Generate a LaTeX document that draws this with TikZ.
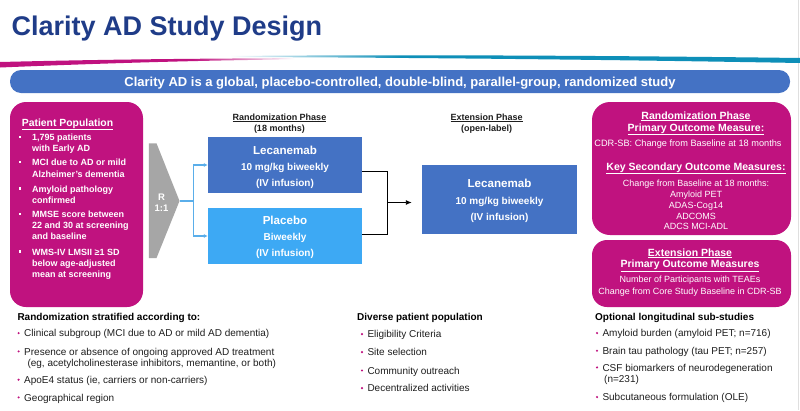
\documentclass[tikz,border=0pt]{standalone}
\usepackage{fontspec}
\setmainfont{Liberation Sans}
\usetikzlibrary{arrows.meta}
\definecolor{mag}{HTML}{C0127F}
\definecolor{navy}{HTML}{1F3C88}
\definecolor{bblue}{HTML}{4472C4}
\definecolor{lblue}{HTML}{3DA9F4}
\definecolor{cgray}{HTML}{A6A6A6}
\definecolor{conn}{HTML}{5AAEEA}
\definecolor{tealc}{HTML}{0E8FB8}
\definecolor{dtext}{HTML}{1E1E1E}
\pgfdeclarehorizontalshading{magfade}{100bp}{color(0bp)=(mag); color(25bp)=(mag); color(55bp)=(mag); color(71bp)=(white); color(100bp)=(white)}
\pgfdeclarehorizontalshading{tealfade}{100bp}{color(0bp)=(white); color(25bp)=(white); color(40bp)=(tealc); color(100bp)=(tealc)}
\newcommand\fsz[1]{\fontsize{#1}{#1}\selectfont}
\begin{document}
\begin{tikzpicture}[x=1pt,y=-1pt,
  lbl/.style={inner sep=0,anchor=base},
  lbll/.style={inner sep=0,anchor=base west},
  wb/.style={lbl,text=white,font=\fsz{#1}\bfseries},
  wr/.style={lbl,text=white,font=\fsz{#1}},
  ppt/.style={lbll,text=white,font=\fsz{9}\bfseries},
  bt/.style={lbll,text=dtext,font=\fsz{10}},
  bh/.style={lbll,text=black,font=\fsz{10}\bfseries},
  hd/.style={lbl,text=dtext,font=\fsz{9}\bfseries},
  boxn/.style={inner sep=0,draw=none},
  barrow/.style={conn,line width=1.1pt,-{Latex[length=4pt,width=4pt]}},
  karrow/.style={black,line width=0.9pt}]
\useasboundingbox (0,0) rectangle (800,410);
\fill[white] (0,0) rectangle (800,410);
\draw[gray!25,line width=0.8pt] (798.8,0) -- (798.8,410);

% title
\node[lbll,font=\fsz{27}\bfseries,text=navy] (title) at (11.5,35) {Clarity AD Study Design};

% swooshes
\shade[shading=tealfade] (230,56) .. controls (400,54.5) and (600,55.5) .. (800,58) -- (800,63) .. controls (600,59.5) and (400,57.5) .. (230,57) -- cycle;
\shade[shading=magfade] (0,62) .. controls (120,59) and (220,58.5) .. (320,58) -- (320,59) .. controls (220,60) and (120,62.5) .. (0,67.5) -- cycle;

% banner
\node[boxn,fill=bblue,rounded corners=11,minimum width=780,minimum height=23] (banner) at (400,81.5) {};
\node[wb=13] (bannert) at (400,86.9) {Clarity AD is a global, placebo-controlled, double-blind, parallel-group, randomized study};

% patient population
\node[boxn,fill=mag,rounded corners=16,minimum width=133,minimum height=205] (pp) at (76.5,204.5) {};
\node[wb=10.4] (pph) at (67.5,126) {\underline{Patient Population}};
\foreach \i/\y/\s in {1/140.7/{1,795 patients},2/151.5/{with Early AD},3/165.7/{MCI due to AD or mild},4/177/{Alzheimer’s dementia},5/192/{Amyloid pathology},6/203/{confirmed},7/217.3/{MMSE score between},8/228.5/{22 and 30 at screening},9/239.7/{and baseline},10/255/{WMS-IV LMSII ≥1 SD},11/266/{below age-adjusted},12/277/{mean at screening}}
  {\node[ppt] (ppl\i) at (32,\y) {\s};}
\foreach \y in {140.7,165.7,192,217.3,255}
  {\fill[white] (19,\y-4.6) rectangle ++(2.2,2.2);}

% chevron
\fill[cgray] (148.8,143.3) -- (156.5,143.3) -- (179.5,201) -- (156.5,258) -- (148.8,258) -- cycle;
\coordinate (tip) at (179.5,201);
\node[wb=9.5] (r1) at (161.5,200) {R};
\node[wb=9.5] (r2) at (161.5,211.7) {1:1};

% headers
\node[hd] (rph) at (279.5,120) {\underline{Randomization Phase}};
\node[hd] (rph2) at (279.5,131) {(18 months)};
\node[hd] (eph) at (486.7,120) {\underline{Extension Phase}};
\node[hd] (eph2) at (486.7,131) {(open-label)};

% arm boxes
\node[boxn,fill=bblue,minimum width=154,minimum height=56] (lec) at (285,165) {};
\node[wb=11.6] (lec1) at (285,154) {Lecanemab};
\node[wb=10] (lec2) at (285,170) {10 mg/kg biweekly};
\node[wb=10] (lec3) at (285,186) {(IV infusion)};
\node[boxn,fill=lblue,minimum width=154,minimum height=56] (plc) at (285,236) {};
\node[wb=11.6] (plc1) at (285,224) {Placebo};
\node[wb=10] (plc2) at (285,240) {Biweekly};
\node[wb=10] (plc3) at (285,256.5) {(IV infusion)};
\node[boxn,fill=bblue,minimum width=155,minimum height=69] (ext) at (499.5,199.7) {};
\node[wb=11.6] (ext1) at (499.5,187.7) {Lecanemab};
\node[wb=10] (ext2) at (499.5,204) {10 mg/kg biweekly};
\node[wb=10] (ext3) at (499.5,220.5) {(IV infusion)};

% connectors
\coordinate (j1) at (193.3,201);
\draw[conn,line width=1.1pt] (tip) -- (j1);
\draw[barrow] (j1) |- (lec.west);
\draw[barrow] (j1) |- (plc.west);
\coordinate (j2) at (387,202.5);
\draw[karrow] ([yshift=-6pt]lec.east) -| (j2);
\draw[karrow] ([yshift=1.5pt]plc.east) -| (j2);
\draw[karrow,-{Latex[length=6pt,width=5pt]}] (j2) -- ([xshift=-10pt]ext.west |- j2);

% right outcome boxes
\node[boxn,fill=mag,rounded corners=18,minimum width=199,minimum height=133] (ob1) at (691.5,168.5) {};
\node[wb=10.5] (o1) at (696,119) {\underline{Randomization Phase}};
\node[wb=10.5] (o2) at (696,131) {\underline{Primary Outcome Measure:}};
\node[wr=9.2] (o3) at (688,146.7) {CDR-SB: Change from Baseline at 18 months};
\node[wb=10.5] (o4) at (696,170) {\underline{Key Secondary Outcome Measures:}};
\node[wr=9] (o5) at (696,186.7) {Change from Baseline at 18 months:};
\node[wr=9] (o6) at (696,197.7) {Amyloid PET};
\node[wr=9] (o7) at (696,208.3) {ADAS-Cog14};
\node[wr=9] (o8) at (696,219) {ADCOMS};
\node[wr=9] (o9) at (696,229.3) {ADCS MCI-ADL};
\node[boxn,fill=mag,rounded corners=15,minimum width=199,minimum height=67] (ob2) at (691.5,273.5) {};
\node[wb=10.5] (e1) at (690,256) {\underline{Extension Phase}};
\node[wb=10.5] (e2) at (690,267.3) {\underline{Primary Outcome Measures}};
\node[wr=9] (e3) at (690,282.3) {Number of Participants with TEAEs};
\node[wr=9] (e4) at (690,294) {Change from Core Study Baseline in CDR-SB};

% bottom left
\node[bh] (sh) at (17.3,320) {Randomization stratified according to:};
\node[bt] (s1) at (24,336.7) {Clinical subgroup (MCI due to AD or mild AD dementia)};
\node[bt] (s2) at (24,355) {Presence or absence of ongoing approved AD treatment};
\node[bt] (s2b) at (27.3,366.7) {(eg, acetylcholinesterase inhibitors, memantine, or both)};
\node[bt] (s3) at (24,383.3) {ApoE4 status (ie, carriers or non-carriers)};
\node[bt] (s4) at (24,401) {Geographical region};
\foreach \y in {336.7,355,383.3,401} {\fill[mag] (18.6,\y-3.6) circle (1.15);}

% bottom middle
\node[bh] (dh) at (357,320) {Diverse patient population};
\node[bt] (d1) at (367.3,337.7) {Eligibility Criteria};
\node[bt] (d2) at (367.3,355.7) {Site selection};
\node[bt] (d3) at (367.3,374) {Community outreach};
\node[bt] (d4) at (367.3,391.7) {Decentralized activities};
\foreach \y in {337.7,355.7,374,391.7} {\fill[mag] (362,\y-3.6) circle (1.15);}

% bottom right
\node[bh] (lh) at (595,320) {Optional longitudinal sub-studies};
\node[bt] (l1) at (602.3,336.7) {Amyloid burden (amyloid PET; n=716)};
\node[bt] (l2) at (602.3,354.3) {Brain tau pathology (tau PET; n=257)};
\node[bt] (l3) at (602.3,371) {CSF biomarkers of neurodegeneration};
\node[bt] (l3b) at (604,382.7) {(n=231)};
\node[bt] (l4) at (602.3,400.7) {Subcutaneous formulation (OLE)};
\foreach \y in {336.7,354.3,371,400.7} {\fill[mag] (597,\y-3.6) circle (1.15);}
\end{tikzpicture}
\end{document}
